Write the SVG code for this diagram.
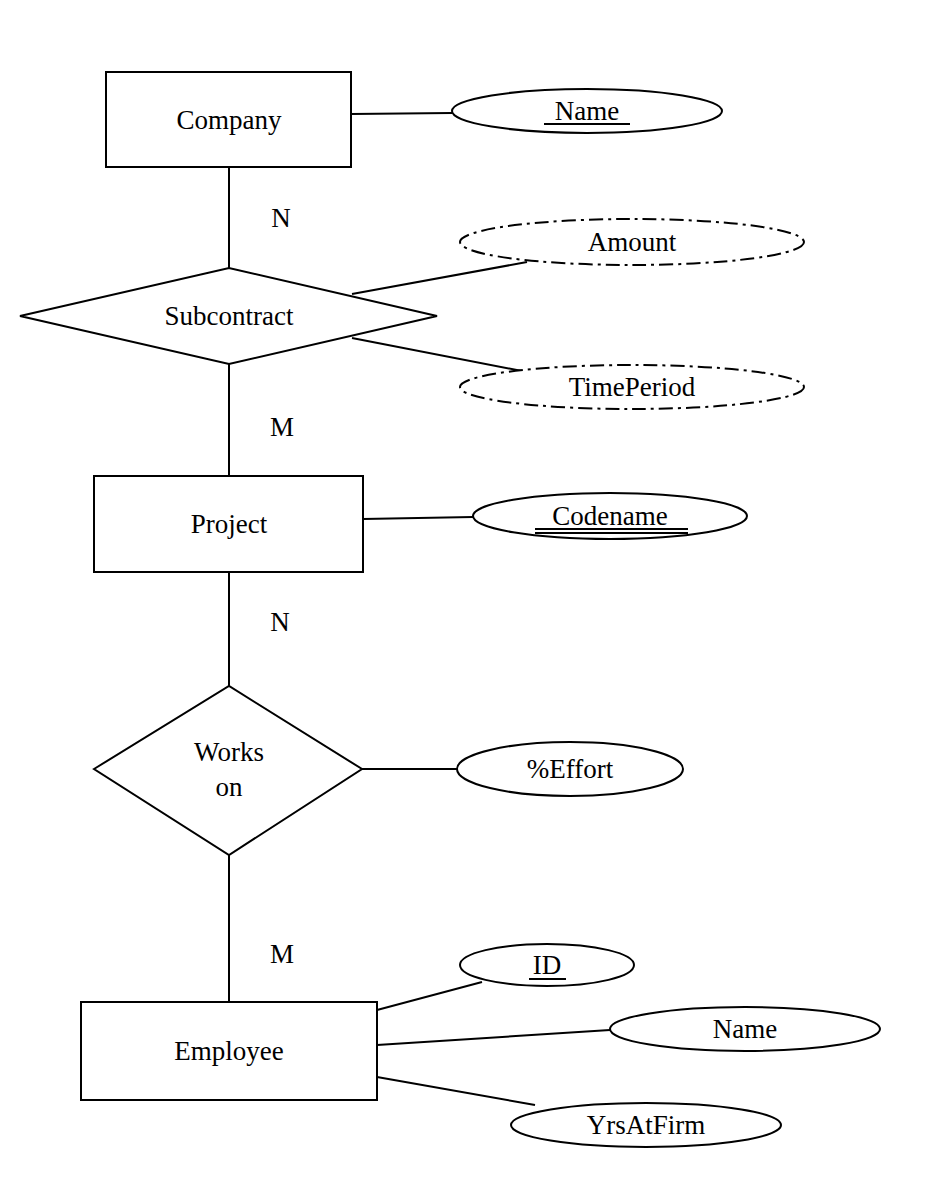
<svg xmlns="http://www.w3.org/2000/svg" width="947" height="1177" viewBox="0 0 947 1177">
<style>
.s{fill:#fff;stroke:#000;stroke-width:2}
.d{fill:#fff;stroke:#000;stroke-width:2;stroke-dasharray:14 5 3 5}
.l{stroke:#000;stroke-width:2;fill:none}
text{font-family:"Liberation Serif",serif;font-size:27px;fill:#000;text-anchor:middle}
</style>
<rect width="947" height="1177" fill="#fff"/>
<g id="connectors">
<line class="l" x1="351" y1="114" x2="452" y2="113"/>
<line class="l" x1="229" y1="167" x2="229" y2="268"/>
<line class="l" x1="352" y1="294" x2="527" y2="262"/>
<line class="l" x1="352" y1="338" x2="527" y2="372"/>
<line class="l" x1="229" y1="364" x2="229" y2="476"/>
<line class="l" x1="363" y1="519" x2="473" y2="517"/>
<line class="l" x1="229" y1="572" x2="229" y2="686"/>
<line class="l" x1="362" y1="769" x2="458" y2="769"/>
<line class="l" x1="229" y1="855" x2="229" y2="1002"/>
<line class="l" x1="377" y1="1010" x2="482" y2="982"/>
<line class="l" x1="377" y1="1045" x2="610" y2="1030"/>
<line class="l" x1="377" y1="1077" x2="535" y2="1105"/>
<text x="281" y="227">N</text>
<text x="282" y="436">M</text>
<text x="280" y="631">N</text>
<text x="282" y="963">M</text>
</g>
<g id="company"><rect class="s" x="106" y="72" width="245" height="95"/><text x="229" y="129">Company</text></g>
<g id="company-name"><ellipse class="s" cx="587" cy="111" rx="135" ry="22"/><text x="587" y="120">Name</text><line class="l" x1="544" y1="124" x2="630" y2="124"/></g>
<g id="subcontract"><polygon class="s" points="20,316 229,268 437,316 229,364"/><text x="229" y="325">Subcontract</text></g>
<g id="amount"><ellipse class="d" cx="632" cy="242" rx="172" ry="23"/><text x="632" y="251">Amount</text></g>
<g id="timeperiod"><ellipse class="d" cx="632" cy="387" rx="172" ry="22"/><text x="632" y="396">TimePeriod</text></g>
<g id="project"><rect class="s" x="94" y="476" width="269" height="96"/><text x="229" y="533">Project</text></g>
<g id="codename"><ellipse class="s" cx="610" cy="516" rx="137" ry="23"/><text x="610" y="525">Codename</text><line class="l" x1="535" y1="529" x2="688" y2="529" stroke-width="1.5"/><line class="l" x1="535" y1="533" x2="688" y2="533" stroke-width="1.5"/></g>
<g id="workson"><polygon class="s" points="94,769 229,686 362,769 229,855"/><text x="229" y="761">Works</text><text x="229" y="796">on</text></g>
<g id="effort"><ellipse class="s" cx="570" cy="769" rx="113" ry="27"/><text x="570" y="778">%Effort</text></g>
<g id="employee"><rect class="s" x="81" y="1002" width="296" height="98"/><text x="229" y="1060">Employee</text></g>
<g id="id"><ellipse class="s" cx="547" cy="965" rx="87" ry="21"/><text x="547" y="974">ID</text><line class="l" x1="529" y1="979" x2="566" y2="979"/></g>
<g id="emp-name"><ellipse class="s" cx="745" cy="1029" rx="135" ry="22"/><text x="745" y="1038">Name</text></g>
<g id="yrsatfirm"><ellipse class="s" cx="646" cy="1125" rx="135" ry="22"/><text x="646" y="1134">YrsAtFirm</text></g>
</svg>
